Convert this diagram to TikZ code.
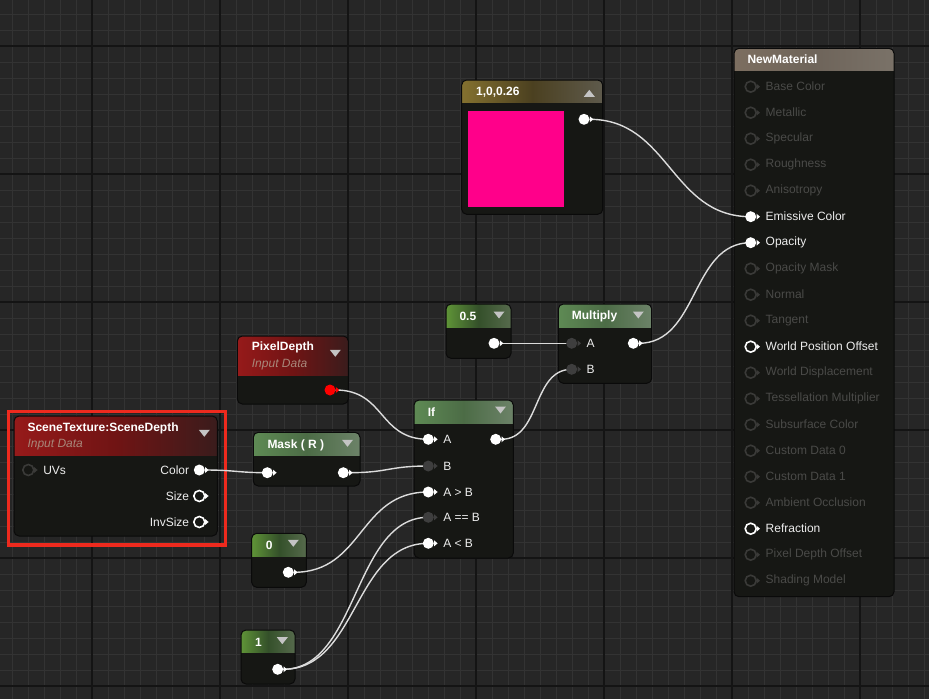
\documentclass[tikz,border=0pt]{standalone}
\usepackage{fontspec}
\setmainfont{Liberation Sans}
\usepackage{tikz}
\usetikzlibrary{positioning, calc, shapes.geometric}
\usepackage{xcolor}
\definecolor{canvas}{HTML}{262626}
\definecolor{gridminor}{HTML}{333333}
\definecolor{gridmajor}{HTML}{141414}
\definecolor{bodyc}{HTML}{161714}
\definecolor{edgec}{HTML}{0A0A0A}
\definecolor{txtw}{HTML}{EDEDED}
\definecolor{txtoff}{HTML}{4A4A48}
\definecolor{pinoffc}{HTML}{3A3A38}
\definecolor{pindarkc}{HTML}{3E3E3E}
\definecolor{wirec}{HTML}{DCDCDC}
\definecolor{subc}{HTML}{A8877A}
\definecolor{tric}{HTML}{C4C4C4}
\definecolor{hotpink}{HTML}{FF008A}
\definecolor{selred}{HTML}{EE2A1E}
\definecolor{pdred}{HTML}{FF0000}
\definecolor{redhi}{HTML}{961A1A}
\definecolor{redmid}{HTML}{701414}
\definecolor{redlo}{HTML}{3A1C1C}
\definecolor{goldhi}{HTML}{84712F}
\definecolor{goldmid}{HTML}{4B4020}
\definecolor{goldlo}{HTML}{5E5A4C}
\definecolor{constahi}{HTML}{5F9437}
\definecolor{constamid}{HTML}{34502A}
\definecolor{constalo}{HTML}{566A4C}
\definecolor{ophi}{HTML}{5E8A54}
\definecolor{opmid}{HTML}{4C6C46}
\definecolor{oplo}{HTML}{6C8268}
\definecolor{mathi}{HTML}{7C6E60}
\definecolor{matmid}{HTML}{6E645A}
\definecolor{matlo}{HTML}{7A7268}
\pgfdeclarelayer{bodies}
\pgfdeclarelayer{pins}
\pgfsetlayers{bodies,main,pins}

\begin{document}
\begin{tikzpicture}[
  x=1pt, y=-1pt, font=\fontsize{12}{14}\selectfont,
  body/.style={draw=edgec, fill=bodyc, rounded corners=5, line width=1, anchor=north west, inner sep=0, outer sep=0},
  hdr/.style n args={2}{path picture={\shade[sharp corners, left color=#1hi, right color=#1lo, middle color=#1mid] (path picture bounding box.north west) rectangle ([yshift=-#2]path picture bounding box.north east);}},
  ttl/.style={anchor=west, inner sep=0, text=white, font=\bfseries\fontsize{12}{14}\selectfont},
  sub/.style={anchor=west, inner sep=0, text=subc, font=\itshape\fontsize{12}{14}\selectfont},
  pin/.style={circle, inner sep=0, outer sep=0, minimum size=11, line width=1.6},
  pintip/.style={append after command={\pgfextra{\fill[#1] ([xshift=0.3]\tikzlastnode.east) ++(0,-3) -- ++(3.5,3) -- ++(-3.5,3) -- cycle;}}},
  pinon/.style={pin, fill=white, pintip=white},
  pinring/.style={pin, draw=white, fill=bodyc, pintip=white},
  pinoff/.style={pin, draw=pinoffc, fill=bodyc, pintip=pinoffc},
  pindark/.style={pin, fill=pindarkc, pintip=pindarkc},
  pinred/.style={pin, fill=pdred, pintip=pdred},
  lblon/.style={inner sep=0, text=txtw, xshift=9.3},
  lblring/.style={lblon},
  lbloff/.style={inner sep=0, text=txtoff, xshift=9.3},
  lblout/.style={inner sep=0, text=txtw, xshift=-4.5},
  wire/.style={wirec, line width=1.4},
  gridline/.style={gridminor, line width=1},
  gridbold/.style={gridmajor, line width=1.2},
  menudown/.pic={\fill[tric] (-5.5,-3.5) -- (5.5,-3.5) -- (0,3.5) -- cycle;},
  menuup/.pic={\fill[tric] (-5.5,3.5) -- (5.5,3.5) -- (0,-3.5) -- cycle;}
]
\useasboundingbox (0,0) rectangle (929,699);

\begin{pgfonlayer}{bodies}
\fill[canvas] (0,0) rectangle (929,699);
\foreach \gx in {12,28,...,924} \draw[gridline] (\gx,0) -- (\gx,699);
\foreach \gy in {14,30,...,686} \draw[gridline] (0,\gy) -- (929,\gy);
\foreach \gx in {92,220,...,860} \draw[gridbold] (\gx,0) -- (\gx,699);
\foreach \gy in {46,174,...,686} \draw[gridbold] (0,\gy) -- (929,\gy);

\node[body, minimum width=203.3, minimum height=120, hdr={red}{39}] (st) at (14,416) {};
\node[body, minimum width=111, minimum height=68, hdr={red}{39}] (pd) at (237.3,336) {};
\node[body, minimum width=141, minimum height=134.3, hdr={gold}{22.7}] (c3) at (461.7,80) {};
\node[body, minimum width=65, minimum height=54.3, hdr={consta}{23.3}] (c05) at (446,304) {};
\node[body, minimum width=93.4, minimum height=79.3, hdr={op}{23.3}] (mul) at (558.3,304) {};
\node[body, minimum width=106.7, minimum height=53.7, hdr={op}{23}] (mask) at (253.3,432.3) {};
\node[body, minimum width=99.3, minimum height=158, hdr={op}{23.3}] (if) at (414,400) {};
\node[body, minimum width=54.6, minimum height=54, hdr={consta}{22.7}] (c0) at (251.7,533.3) {};
\node[body, minimum width=54, minimum height=54, hdr={consta}{22.7}] (c1) at (241,630) {};
\node[body, minimum width=160, minimum height=548.4, hdr={mat}{21.7}] (mat) at (734,48.3) {};
\node[anchor=north west, fill=hotpink, inner sep=0, outer sep=0, minimum size=96] (swatch) at (468,110.7) {};
\node[draw=selred, line width=3.2, anchor=north west, inner sep=0, outer sep=0, minimum width=217.4, minimum height=133.3] (sel) at (8.3,411.7) {};

\node[ttl] (st-title) at (27.3,428.3) {SceneTexture:SceneDepth};
\node[sub] (st-sub) at (27.3,444.3) {Input Data};
\node[ttl] (pd-title) at (251.7,347.7) {PixelDepth};
\node[sub] (pd-sub) at (251.7,364.3) {Input Data};
\node[ttl] (c3-title) at (476,92.7) {1,0,0.26};
\node[ttl] (c05-title) at (459.3,316.7) {0.5};
\node[ttl] (mul-title) at (571.7,316.7) {Multiply};
\node[ttl] (mask-title) at (267.3,445) {Mask ( R )};
\node[ttl] (if-title) at (427.7,412) {If};
\node[ttl] (c0-title) at (265.7,545) {0};
\node[ttl] (c1-title) at (255,642.7) {1};
\node[ttl] (mat-title) at (747.3,59.3) {NewMaterial};

\pic at (204.3,433.3) {menudown};
\pic at (335.3,353.3) {menudown};
\pic at (589.3,93.3) {menuup};
\pic at (499,315) {menudown};
\pic at (638.3,315) {menudown};
\pic at (347.5,443.3) {menudown};
\pic at (500.5,410) {menudown};
\pic at (293.3,543.3) {menudown};
\pic at (282.3,640.7) {menudown};
\end{pgfonlayer}

\begin{pgfonlayer}{pins}
\node[pinoff, label={[lblon]east:UVs}] (st-uv) at (28.3,470) {};
\node[pinon, label={[lblout]west:Color}] (st-color) at (199.3,470) {};
\node[pinring, label={[lblout]west:Size}] (st-size) at (199.3,496) {};
\node[pinring, label={[lblout]west:InvSize}] (st-invsize) at (199.3,522) {};
\node[pinred] (pd-out) at (330,390) {};
\node[pinon] (c3-out) at (584,119.3) {};
\node[pinon] (c05-out) at (494,343.3) {};
\node[pindark, label={[lblon]east:A}] (mul-a) at (571.7,343.3) {};
\node[pindark, label={[lblon]east:B}] (mul-b) at (571.7,369.3) {};
\node[pinon] (mul-out) at (633.3,343.3) {};
\node[pinon] (mask-in) at (267.3,472.7) {};
\node[pinon] (mask-out) at (343.3,472.7) {};
\node[pinon, label={[lblon]east:A}] (if-a) at (428.3,439.3) {};
\node[pinon] (if-out) at (495.7,439.3) {};
\node[pindark, label={[lblon]east:B}] (if-b) at (428.3,466) {};
\node[pinon, label={[lblon]east:A > B}] (if-agtb) at (428.3,492) {};
\node[pindark, label={[lblon]east:A == B}] (if-aeqb) at (428.3,517.3) {};
\node[pinon, label={[lblon]east:A < B}] (if-altb) at (428.3,543.3) {};
\node[pinon] (c0-out) at (288.3,572.3) {};
\node[pinon] (c1-out) at (277.7,669.3) {};
\foreach \pname/\plabel/\pkind [count=\k from 0] in {
  base/Base Color/off, metal/Metallic/off, spec/Specular/off, rough/Roughness/off,
  aniso/Anisotropy/off, emissive/Emissive Color/on, opacity/Opacity/on,
  opmask/Opacity Mask/off, normal/Normal/off, tangent/Tangent/off,
  wpo/World Position Offset/ring, wdisp/World Displacement/off,
  tess/Tessellation Multiplier/off, sss/Subsurface Color/off,
  cd0/Custom Data 0/off, cd1/Custom Data 1/off, ao/Ambient Occlusion/off,
  refr/Refraction/ring, pdo/Pixel Depth Offset/off, shading/Shading Model/off}
  \node[pin\pkind, label={[lbl\pkind]east:\plabel}] (mat-\pname) at (750.7, 86.7+26*\k) {};
\end{pgfonlayer}

\draw[wire] (c3-out.east) .. controls +(80,0) and +(-80,0) .. (mat-emissive.center);
\draw[wire] (mul-out.east) .. controls +(60,0) and +(-60,0) .. (mat-opacity.center);
\draw[wire] (c05-out.east) -- (mul-a.center);
\draw[wire] (if-out.east) .. controls +(40,0) and +(-40,0) .. (mul-b.center);
\draw[wire] (pd-out.east) .. controls +(50,0) and +(-50,0) .. (if-a.center);
\draw[wire] (st-color.east) .. controls +(30,0) and +(-30,0) .. (mask-in.center);
\draw[wire] (mask-out.east) .. controls +(40,0) and +(-40,0) .. (if-b.center);
\draw[wire] (c0-out.east) .. controls +(70,0) and +(-70,0) .. (if-agtb.center);
\draw[wire] (c1-out.east) .. controls +(75,0) and +(-75,0) .. (if-aeqb.center);
\draw[wire] (c1-out.east) .. controls +(75,0) and +(-75,0) .. (if-altb.center);
\end{tikzpicture}
\end{document}
